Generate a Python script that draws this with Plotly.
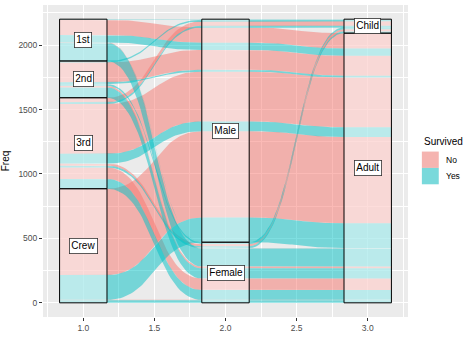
import numpy as np
import plotly.graph_objects as go

# ---- data (Titanic, as.data.frame order: Class fastest, then Sex, Age, Survived) ----
classes = ["1st", "2nd", "3rd", "Crew"]
sexes = ["Male", "Female"]
ages = ["Child", "Adult"]
survived = ["No", "Yes"]
freq = [0, 0, 35, 0, 0, 0, 17, 0,
        118, 154, 387, 670, 4, 13, 89, 3,
        5, 11, 13, 0, 1, 13, 14, 0,
        57, 14, 75, 192, 140, 80, 76, 20]
x_ticks = [1.0, 1.5, 2.0, 2.5, 3.0]
x_tick_labels = ["1.0", "1.5", "2.0", "2.5", "3.0"]
y_ticks = [0, 500, 1000, 1500, 2000]
y_tick_labels = ["0", "500", "1000", "1500", "2000"]
fill_colors = {"No": (248, 118, 109), "Yes": (0, 191, 196)}

# ---- build alluvia ----
rows = []
k = 0
for sv in survived:
    for ag in ages:
        for sx in sexes:
            for cl in classes:
                rows.append(dict(Class=cl, Sex=sx, Age=ag, Survived=sv, Freq=freq[k], idx=k))
                k += 1

axis_vars = ["Class", "Sex", "Age"]
levels = {"Class": classes, "Sex": sexes, "Age": ages}
guidance = [[0, 1, 2], [1, 2, 0], [2, 1, 0]]  # zigzag lode ordering
total = sum(freq)
W = 1 / 3  # stratum width

for j, order in enumerate(guidance):
    def key(r, order=order):
        return tuple(levels[axis_vars[a]].index(r[axis_vars[a]]) for a in order) + (r["idx"],)
    cum = 0
    for r in sorted(rows, key=key):
        r["top%d" % j] = total - cum
        r["bot%d" % j] = total - cum - r["Freq"]
        cum += r["Freq"]

strata = []
for j, var in enumerate(axis_vars):
    cum = 0
    for lv in levels[var]:
        s = sum(r["Freq"] for r in rows if r[var] == lv)
        strata.append(dict(x=j + 1, top=total - cum, bot=total - cum - s, label=lv))
        cum += s


def bezier(x0, y0, x1, y1, n=40, kk=0.5):
    t = np.linspace(0, 1, n)
    d = x1 - x0
    px = [x0, x0 + kk * d, x1 - kk * d, x1]
    py = [y0, y0, y1, y1]
    b = [(1 - t) ** 3, 3 * t * (1 - t) ** 2, 3 * t ** 2 * (1 - t), t ** 3]
    xs = sum(b[i] * px[i] for i in range(4))
    ys = sum(b[i] * py[i] for i in range(4))
    return list(xs), list(ys)


def edge(ys_at_axes):
    X, Y = [], []
    for j in range(3):
        xc = j + 1
        X += [xc - W / 2, xc + W / 2]
        Y += [ys_at_axes[j], ys_at_axes[j]]
        if j < 2:
            bx, by = bezier(xc + W / 2, ys_at_axes[j], xc + 1 - W / 2, ys_at_axes[j + 1])
            X += bx[1:-1]
            Y += by[1:-1]
    return X, Y


fig = go.Figure()
for r in rows:
    if r["Freq"] <= 0:
        continue
    ux, uy = edge([r["top0"], r["top1"], r["top2"]])
    lx, ly = edge([r["bot0"], r["bot1"], r["bot2"]])
    c = fill_colors[r["Survived"]]
    fig.add_trace(go.Scatter(
        x=ux + lx[::-1], y=uy + ly[::-1], mode="lines", fill="toself",
        fillcolor="rgba(%d,%d,%d,0.5)" % c, line=dict(width=0),
        hoverinfo="skip", showlegend=False))

shapes = []
annotations = []
for s in strata:
    shapes.append(dict(type="rect", xref="x", yref="y", layer="above",
                       x0=s["x"] - W / 2, x1=s["x"] + W / 2, y0=s["bot"], y1=s["top"],
                       fillcolor="rgba(255,255,255,0.5)", line=dict(color="black", width=1)))
    annotations.append(dict(x=s["x"], y=(s["top"] + s["bot"]) / 2, xref="x", yref="y",
                            text=s["label"], showarrow=False,
                            font=dict(family="Liberation Sans, Arial", size=10, color="black"),
                            bgcolor="white", bordercolor="#333333", borderwidth=0.8, borderpad=1.5))

# ---- legend (custom, in paper coords) ----
PL, PR, PT, PB = 40, 408, 5, 320
def px_x(p):
    return (p - PL) / (PR - PL)
def px_y(p):
    return (PB - p) / (PB - PT)

annotations.append(dict(x=px_x(422), y=px_y(143), xref="paper", yref="paper", xanchor="left",
                        yanchor="middle", text="Survived", showarrow=False,
                        font=dict(family="Liberation Sans, Arial", size=10, color="black")))
for i, sv in enumerate(survived):
    y0 = 153 + 16.5 * i
    y1 = y0 + 16.5
    shapes.append(dict(type="rect", xref="paper", yref="paper", x0=px_x(422), x1=px_x(439),
                       y0=px_y(y1), y1=px_y(y0), fillcolor="#F2F2F2", line=dict(width=0)))
    shapes.append(dict(type="rect", xref="paper", yref="paper", x0=px_x(422), x1=px_x(439),
                       y0=px_y(y1), y1=px_y(y0), fillcolor="rgba(%d,%d,%d,0.5)" % fill_colors[sv],
                       line=dict(width=0)))
    annotations.append(dict(x=px_x(444), y=px_y((y0 + y1) / 2), xref="paper", yref="paper",
                            xanchor="left", yanchor="middle", text=sv, showarrow=False,
                            font=dict(family="Liberation Sans, Arial", size=8.5, color="black")))

xr = [1 - W / 2 - 0.05 * (2 + W), 3 + W / 2 + 0.05 * (2 + W)]
yr = [-0.05 * total, total * 1.05]

fig.update_layout(
    width=474, height=338,
    margin=dict(l=PL, r=474 - PR, t=PT, b=338 - PB, pad=0),
    paper_bgcolor="white", plot_bgcolor="#EBEBEB",
    font=dict(family="Liberation Sans, Arial", color="#4D4D4D"),
    shapes=shapes, annotations=annotations, showlegend=False,
    xaxis=dict(range=xr, tickvals=x_ticks, ticktext=x_tick_labels, ticks="outside", ticklen=3,
               tickcolor="#333333", tickwidth=1, tickfont=dict(size=8.5, color="#4D4D4D"),
               showgrid=True, gridcolor="white", gridwidth=1.1, zeroline=False, showline=False,
               minor=dict(tickvals=[0.75, 1.25, 1.75, 2.25, 2.75, 3.25], showgrid=True,
                          gridcolor="white", gridwidth=0.55, ticks="")),
    yaxis=dict(range=yr, tickvals=y_ticks, ticktext=y_tick_labels, ticks="outside", ticklen=3,
               tickcolor="#333333", tickwidth=1, tickfont=dict(size=8.5, color="#4D4D4D"),
               showgrid=True, gridcolor="white", gridwidth=1.1, zeroline=False, showline=False,
               minor=dict(tickvals=[250, 750, 1250, 1750, 2250], showgrid=True,
                          gridcolor="white", gridwidth=0.55, ticks=""),
               title=dict(text="Freq", font=dict(size=10, color="black"), standoff=6)),
)

fig.write_html("out.html")
